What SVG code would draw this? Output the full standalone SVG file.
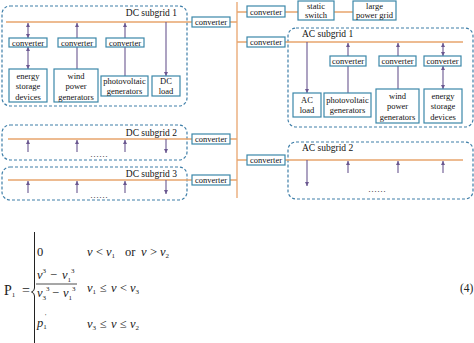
<svg xmlns="http://www.w3.org/2000/svg" width="474" height="343" viewBox="0 0 474 343">
<defs>
<marker id="ah" viewBox="0 0 6 6" refX="6" refY="3" markerWidth="4" markerHeight="4" markerUnits="userSpaceOnUse" orient="auto-start-reverse">
<path d="M0,0 L6,3 L0,6 z" fill="#6a5790"/>
</marker>
<style>
.bus{stroke:#e8a56e;stroke-width:1.3;fill:none}
.arr{stroke:#6a5790;stroke-width:1.1;fill:none}
.box{fill:#fff;stroke:#3b87a9;stroke-width:1.2}
.grp{fill:none;stroke:#3e7ea8;stroke-width:1.2;stroke-dasharray:3 2}
.t{font-family:"Liberation Serif",serif;font-size:8.5px;fill:#111;text-anchor:middle}
.lbl{font-family:"Liberation Serif",serif;font-size:9.5px;fill:#111}
.dots{font-family:"Liberation Serif",serif;font-size:9px;fill:#111}
.m{font-family:"Liberation Serif",serif;font-size:12.5px;fill:#222}
.mi{font-style:italic}
.s{font-size:7px}
</style>
</defs>

<!-- group frames -->
<g id="subgrids">
<rect id="dc1" class="grp" x="2" y="6" width="185" height="100" rx="8"/>
<rect id="dc2" class="grp" x="2" y="125" width="185" height="35" rx="8"/>
<rect id="dc3" class="grp" x="2" y="167" width="185" height="33" rx="8"/>
<rect id="ac1" class="grp" x="288" y="28" width="185" height="99" rx="8"/>
<rect id="ac2" class="grp" x="288" y="142" width="185" height="57" rx="8"/>
<text class="lbl" x="177" y="16" text-anchor="end">DC subgrid 1</text>
<text class="lbl" x="177" y="136" text-anchor="end">DC subgrid 2</text>
<text class="lbl" x="177" y="177" text-anchor="end">DC subgrid 3</text>
<text class="lbl" x="302" y="37">AC subgrid 1</text>
<text class="lbl" x="302" y="151">AC subgrid 2</text>
</g>

<!-- connectors -->
<g id="connectors">
<path class="bus" d="M237,2 V198"/>
<path class="bus" d="M6,22 H192 M230,22 H237"/>
<path class="bus" d="M8,139 H192 M230,139 H237"/>
<path class="bus" d="M8,180 H192 M230,180 H237"/>
<path class="bus" d="M237,12 H247 M285,12 H298 M334,12 H353"/>
<path class="bus" d="M237,42 H247 M285,42 H463"/>
<path class="bus" d="M237,160 H247 M285,160 H463"/>

<!-- DC subgrid 1 -->
<line class="arr" x1="28" y1="23" x2="28" y2="38" marker-start="url(#ah)" marker-end="url(#ah)"/>
<line class="arr" x1="28" y1="47" x2="28" y2="69" marker-start="url(#ah)" marker-end="url(#ah)"/>
<line class="arr" x1="77" y1="38" x2="77" y2="23" marker-end="url(#ah)"/>
<line class="arr" x1="77" y1="69" x2="77" y2="47"/>
<line class="arr" x1="125" y1="38" x2="125" y2="23" marker-end="url(#ah)"/>
<line class="arr" x1="125" y1="76" x2="125" y2="47"/>
<line class="arr" x1="166" y1="22" x2="166" y2="76" marker-end="url(#ah)"/>

<!-- DC subgrid 2 -->
<line class="arr" x1="28" y1="152" x2="28" y2="140" marker-end="url(#ah)"/>
<line class="arr" x1="77" y1="152" x2="77" y2="140" marker-end="url(#ah)"/>
<line class="arr" x1="125" y1="152" x2="125" y2="140" marker-end="url(#ah)"/>
<line class="arr" x1="166" y1="139" x2="166" y2="153" marker-end="url(#ah)"/>

<!-- DC subgrid 3 -->
<line class="arr" x1="28" y1="193" x2="28" y2="181" marker-end="url(#ah)"/>
<line class="arr" x1="77" y1="193" x2="77" y2="181" marker-end="url(#ah)"/>
<line class="arr" x1="125" y1="193" x2="125" y2="181" marker-end="url(#ah)"/>
<line class="arr" x1="166" y1="180" x2="166" y2="194" marker-end="url(#ah)"/>

<!-- AC subgrid 1 -->
<line class="arr" x1="307" y1="42" x2="307" y2="93" marker-end="url(#ah)"/>
<line class="arr" x1="348" y1="56" x2="348" y2="43" marker-end="url(#ah)"/>
<line class="arr" x1="348" y1="93" x2="348" y2="66"/>
<line class="arr" x1="398" y1="56" x2="398" y2="43" marker-end="url(#ah)"/>
<line class="arr" x1="398" y1="89" x2="398" y2="66"/>
<line class="arr" x1="443" y1="43" x2="443" y2="56" marker-start="url(#ah)" marker-end="url(#ah)"/>
<line class="arr" x1="443" y1="66" x2="443" y2="89" marker-start="url(#ah)" marker-end="url(#ah)"/>

<!-- AC subgrid 2 -->
<line class="arr" x1="307" y1="160" x2="307" y2="186" marker-end="url(#ah)"/>
<line class="arr" x1="348" y1="173" x2="348" y2="161" marker-end="url(#ah)"/>
<line class="arr" x1="398" y1="173" x2="398" y2="161" marker-end="url(#ah)"/>
<line class="arr" x1="443" y1="173" x2="443" y2="161" marker-end="url(#ah)"/>
</g>

<!-- nodes -->
<g id="conv-dc1"><rect class="box" x="192" y="17" width="38" height="10"/><text class="t" x="211" y="25">converter</text></g>
<g id="conv-dc2"><rect class="box" x="192" y="134" width="38" height="10"/><text class="t" x="211" y="142">converter</text></g>
<g id="conv-dc3"><rect class="box" x="192" y="175" width="38" height="10"/><text class="t" x="211" y="183">converter</text></g>
<g id="conv-grid"><rect class="box" x="247" y="6" width="38" height="11"/><text class="t" x="266" y="14.5">converter</text></g>
<g id="conv-ac1"><rect class="box" x="247" y="37" width="38" height="10"/><text class="t" x="266" y="45">converter</text></g>
<g id="conv-ac2"><rect class="box" x="247" y="155" width="38" height="10"/><text class="t" x="266" y="163">converter</text></g>
<g id="static-switch"><rect class="box" x="298" y="1" width="36" height="19"/><text class="t" x="316" y="9">static</text><text class="t" x="316" y="17.5">switch</text></g>
<g id="large-grid"><rect class="box" x="353" y="1" width="43" height="19"/><text class="t" x="374.5" y="9">large</text><text class="t" x="374.5" y="17.5">power grid</text></g>

<!-- DC subgrid 1 nodes -->
<g id="dc1-conv-es"><rect class="box" x="9" y="38" width="38" height="9"/><text class="t" x="28" y="45.5">converter</text></g>
<g id="dc1-conv-wind"><rect class="box" x="58" y="38" width="38" height="9"/><text class="t" x="77" y="45.5">converter</text></g>
<g id="dc1-conv-pv"><rect class="box" x="106" y="38" width="38" height="9"/><text class="t" x="125" y="45.5">converter</text></g>
<g id="dc1-es"><rect class="box" x="9" y="69" width="38" height="33"/><text class="t" x="28" y="78.5">energy</text><text class="t" x="28" y="89">storage</text><text class="t" x="28" y="99.5">devices</text></g>
<g id="dc1-wind"><rect class="box" x="54" y="69" width="44" height="33"/><text class="t" x="76" y="78.5">wind</text><text class="t" x="76" y="89">power</text><text class="t" x="76" y="99.5">generators</text></g>
<g id="dc1-pv"><rect class="box" x="101" y="76" width="47" height="20"/><text class="t" x="124.5" y="84">photovoltaic</text><text class="t" x="124.5" y="93.5">generators</text></g>
<g id="dc1-load"><rect class="box" x="152" y="76" width="28" height="20"/><text class="t" x="166" y="84">DC</text><text class="t" x="166" y="93.5">load</text></g>

<!-- AC subgrid 1 nodes -->
<g id="ac1-conv-pv"><rect class="box" x="330" y="56" width="36" height="10"/><text class="t" x="348" y="64">converter</text></g>
<g id="ac1-conv-wind"><rect class="box" x="379" y="56" width="37" height="10"/><text class="t" x="397.5" y="64">converter</text></g>
<g id="ac1-conv-es"><rect class="box" x="424" y="56" width="37" height="10"/><text class="t" x="442.5" y="64">converter</text></g>
<g id="ac1-load"><rect class="box" x="293" y="93" width="28" height="24"/><text class="t" x="307" y="103">AC</text><text class="t" x="307" y="113">load</text></g>
<g id="ac1-pv"><rect class="box" x="324" y="93" width="47" height="24"/><text class="t" x="347.5" y="103">photovoltaic</text><text class="t" x="347.5" y="113">generators</text></g>
<g id="ac1-wind"><rect class="box" x="376" y="89" width="43" height="34"/><text class="t" x="397.5" y="98.5">wind</text><text class="t" x="397.5" y="109">power</text><text class="t" x="397.5" y="119.5">generators</text></g>
<g id="ac1-es"><rect class="box" x="424" y="89" width="38" height="34"/><text class="t" x="443" y="98.5">energy</text><text class="t" x="443" y="109">storage</text><text class="t" x="443" y="119.5">devices</text></g>

<g id="ellipses">
<text class="dots" x="90" y="157">……</text>
<text class="dots" x="90" y="198">……</text>
<text class="dots" x="368" y="192">……</text>
</g>

<!-- formula -->
<g id="formula">
<text class="m" x="4" y="295" style="font-size:14px">P<tspan class="s" dy="2">1</tspan></text>
<text class="m" x="22" y="295" style="font-size:14px">=</text>
<path d="M34.5,232 V288 Q34.5,291 31.5,292 Q34.5,293 34.5,296 V343" fill="none" stroke="#222" stroke-width="1"/>
<text class="m" x="37" y="256">0</text>
<text class="m" y="256"><tspan class="mi" x="87">v</tspan><tspan x="96">&lt;</tspan><tspan class="mi" x="106">v</tspan><tspan class="s" dy="2">1</tspan><tspan x="125" dy="-2">or</tspan><tspan class="mi" x="141">v</tspan><tspan x="150">&gt;</tspan><tspan class="mi" x="160">v</tspan><tspan class="s" dy="2">2</tspan></text>
<text class="m" y="279"><tspan class="mi" x="37">v</tspan><tspan class="s" dy="-6">3</tspan><tspan x="50" dy="6">−</tspan><tspan class="mi" x="62">v</tspan><tspan class="s" dy="3">1</tspan></text>
<text class="m s" x="71" y="273">3</text>
<line x1="36" y1="284" x2="77" y2="284" stroke="#222" stroke-width="0.8"/>
<text class="m" y="297"><tspan class="mi" x="37">v</tspan><tspan class="s" dy="3">3</tspan><tspan x="52" dy="-3">−</tspan><tspan class="mi" x="63">v</tspan><tspan class="s" dy="3">1</tspan></text>
<text class="m s" x="46" y="291">3</text>
<text class="m s" x="72" y="291">3</text>
<text class="m" y="292"><tspan class="mi" x="87">v</tspan><tspan class="s" dy="2">1</tspan><tspan x="100" dy="-2">≤</tspan><tspan class="mi" x="111">v</tspan><tspan x="120">&lt;</tspan><tspan class="mi" x="130">v</tspan><tspan class="s" dy="2">3</tspan></text>
<text class="m" y="327"><tspan class="mi" x="37">p</tspan><tspan class="s" dy="2">1</tspan></text>
<text class="m s" x="45" y="318">'</text>
<text class="m" y="328"><tspan class="mi" x="87">v</tspan><tspan class="s" dy="2">3</tspan><tspan x="100" dy="-2">≤</tspan><tspan class="mi" x="111">v</tspan><tspan x="120">≤</tspan><tspan class="mi" x="130">v</tspan><tspan class="s" dy="2">2</tspan></text>
<text class="m" x="460" y="292" style="font-size:11.5px">(4)</text>
</g>
</svg>
